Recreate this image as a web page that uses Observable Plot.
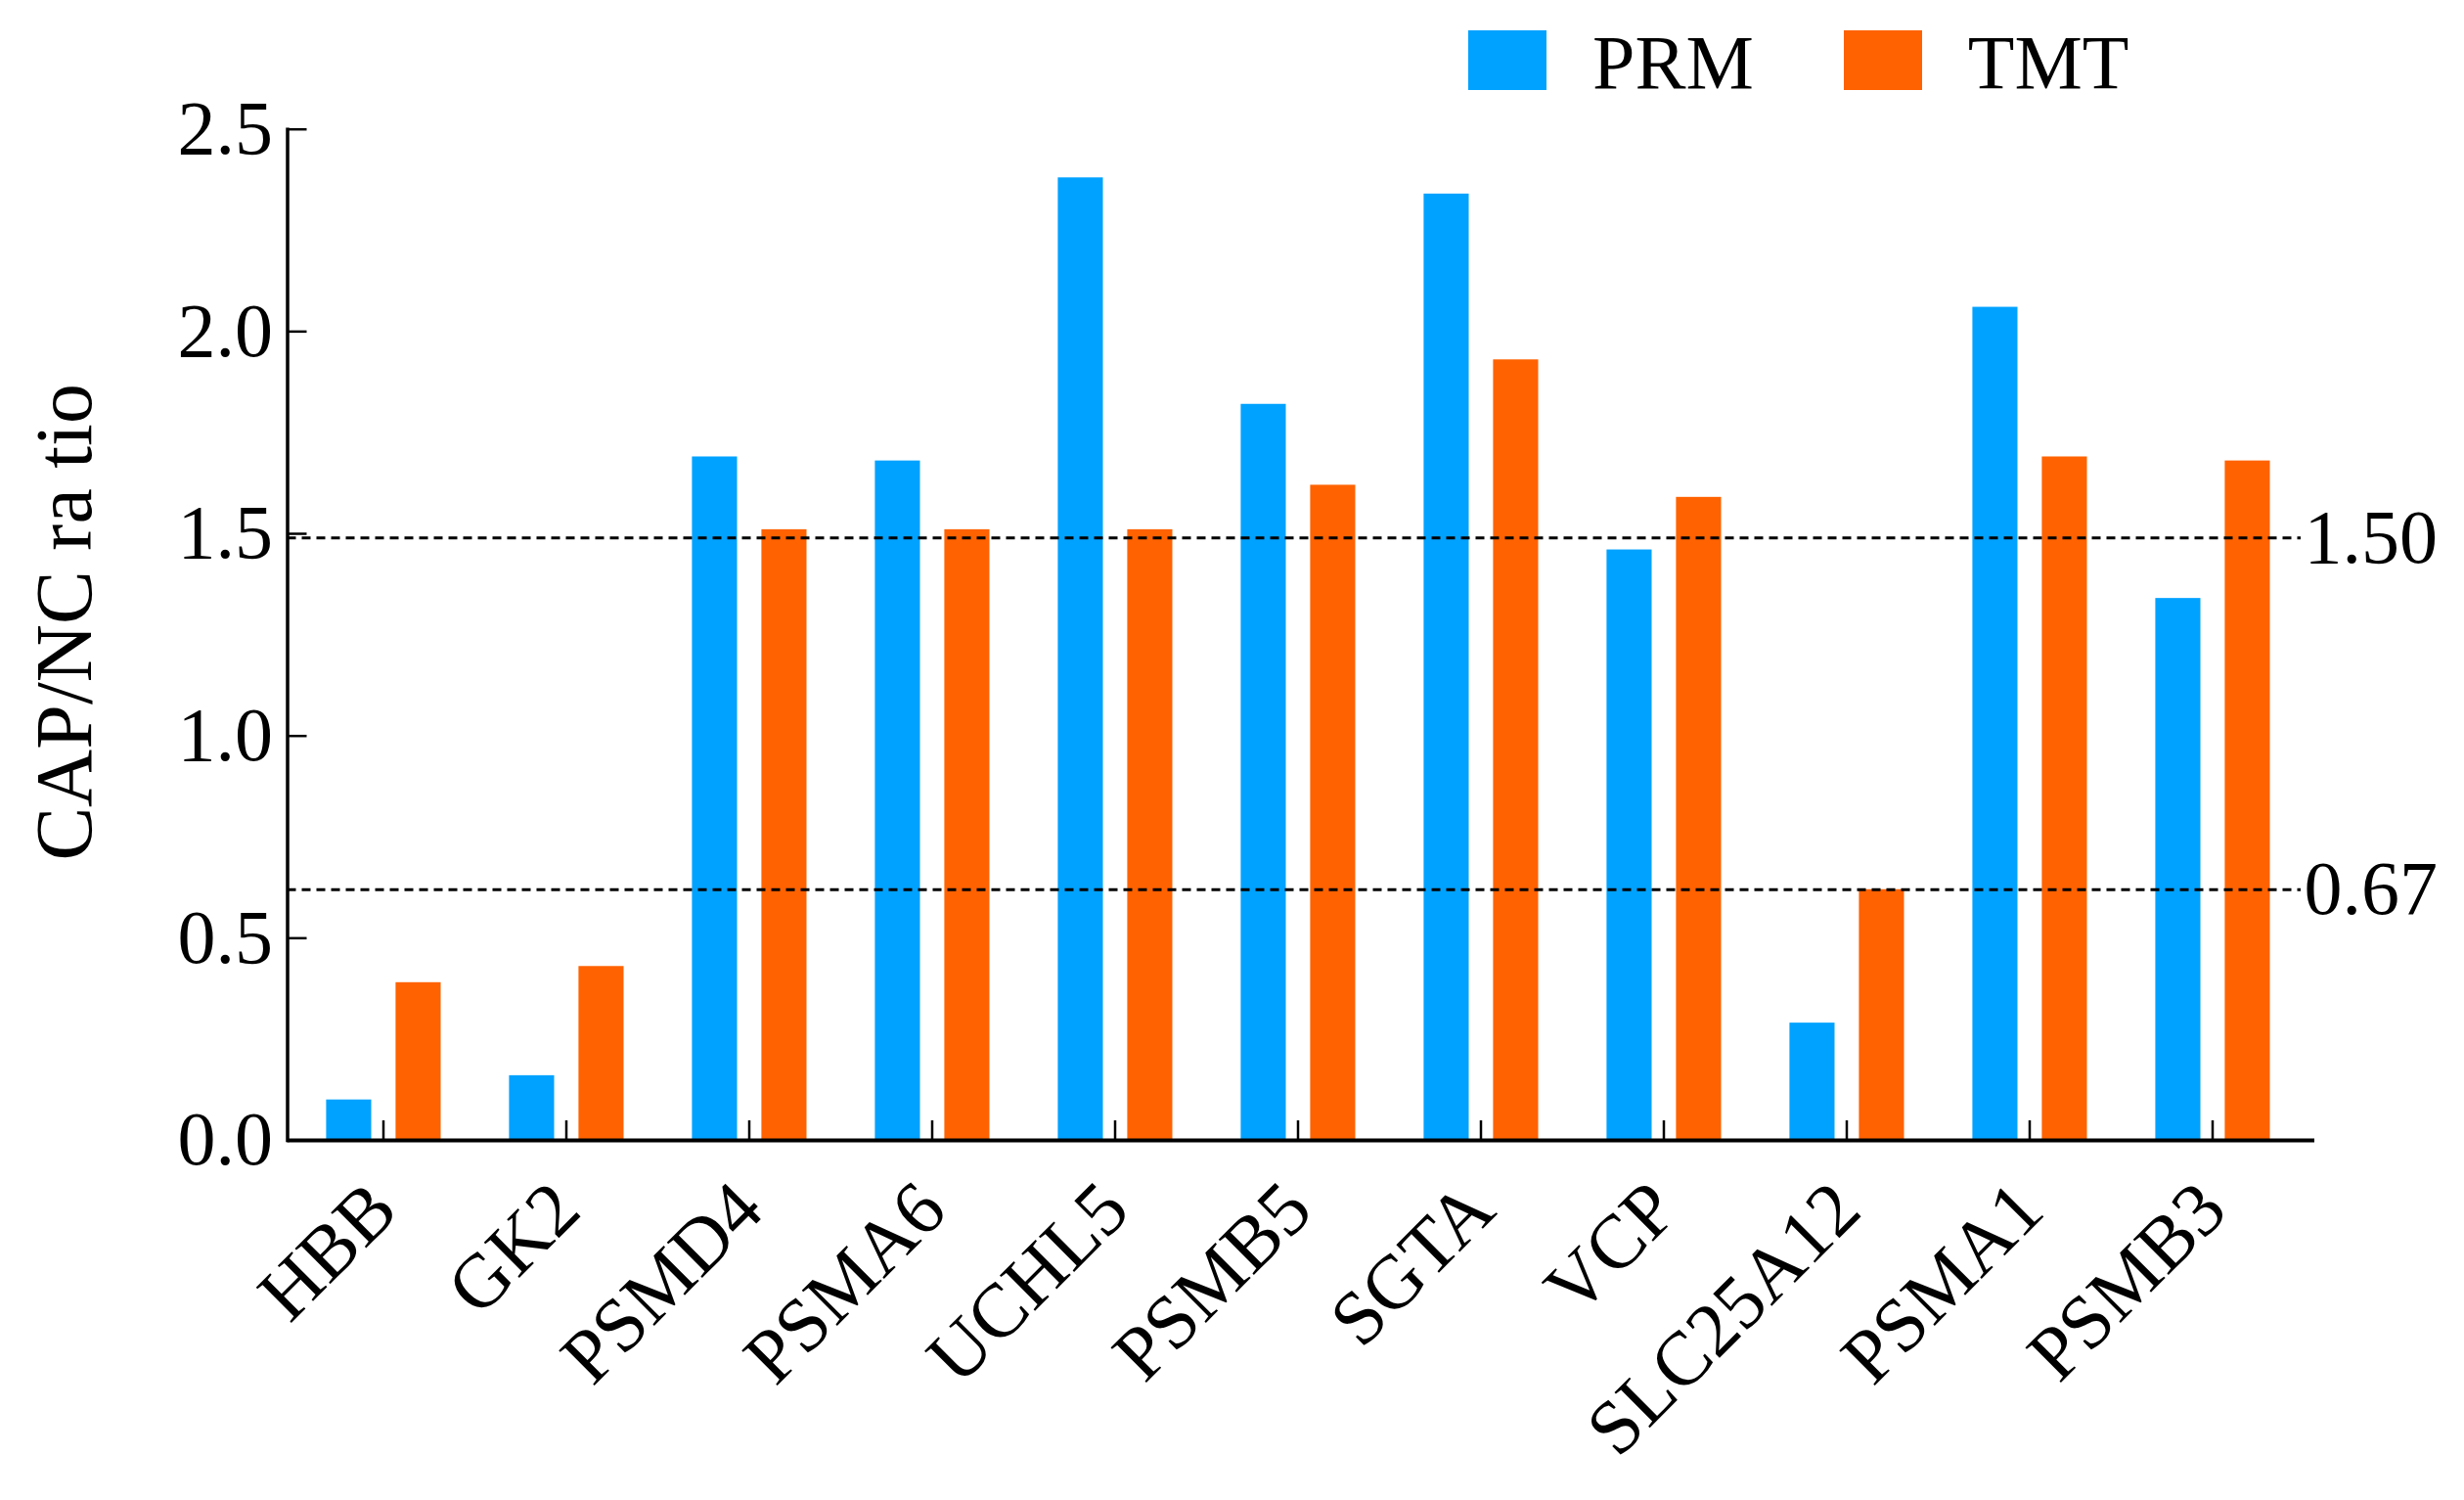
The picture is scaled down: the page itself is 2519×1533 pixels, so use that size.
<!DOCTYPE html>
<html><head><meta charset="utf-8">
<script src="https://cdn.jsdelivr.net/npm/d3@7"></script>
<script src="https://cdn.jsdelivr.net/npm/@observablehq/plot@0.6"></script>
<style>
html,body{margin:0;padding:0;background:#fff;}
#wrap{position:relative;width:2519px;height:1533px;overflow:hidden;}
#legend{position:absolute;left:1501px;top:22.5px;display:flex;align-items:center;font-family:"Liberation Serif","Times New Roman",serif;font-size:78px;color:#000;line-height:1;}
#legend .sw{width:80px;height:61px;margin-right:47px;}
#legend .lab{margin-right:92px;position:relative;top:2px;}
#chart{position:absolute;left:0;top:0;}
</style></head><body>
<div id="wrap"><div id="chart"></div><div id="legend"></div></div>
<script>
const genes = ["HBB","GK2","PSMD4","PSMA6","UCHL5","PSMB5","SGTA","VCP","SLC25A12","PSMA1","PSMB3"];
const prm = [0.10, 0.16, 1.69, 1.68, 2.38, 1.82, 2.34, 1.46, 0.29, 2.06, 1.34];
const tmt = [0.39, 0.43, 1.51, 1.51, 1.51, 1.62, 1.93, 1.59, 0.62, 1.69, 1.68];
const seriesNames = ["PRM", "TMT"];
const seriesColors = ["#00A2FF", "#FF6200"];
const yTicks = [0, 0.5, 1.0, 1.5, 2.0, 2.5];
const thresholdValues = [1.49, 0.62];
const thresholdLabels = ["1.50", "0.67"];
const yLabel = "CAP/NC ra tio";

const FONT = '"Liberation Serif","Times New Roman",serif';
const prmData = genes.map((g, i) => ({gene: g, value: prm[i]}));
const tmtData = genes.map((g, i) => ({gene: g, value: tmt[i]}));
const thresholds = thresholdValues.map((v, i) => ({value: v, label: thresholdLabels[i]}));

const plot = Plot.plot({
  width: 2519,
  height: 1533,
  marginLeft: 293.5,
  marginRight: 159,
  marginTop: 131.7,
  marginBottom: 368,
  style: {fontFamily: FONT, fontSize: "78px", color: "#000", background: "transparent", overflow: "visible"},
  x: {domain: genes, padding: 0, axis: null},
  y: {domain: [0, 2.5], axis: null},
  marks: [
    Plot.barY(prmData, {x: "gene", y: "value", fill: seriesColors[0], insetLeft: 35.4, insetRight: 105.5}),
    Plot.barY(tmtData, {x: "gene", y: "value", fill: seriesColors[1], insetLeft: 106.4, insetRight: 34.5}),
    Plot.ruleY(thresholds, {y: "value", stroke: "#000", strokeWidth: 3, strokeDasharray: "9,6", insetRight: 8}),
    Plot.text(thresholds, {y: "value", text: "label", frameAnchor: "right", textAnchor: "start", lineAnchor: "middle", dx: -5, fill: "#000"}),
    Plot.axisY({ticks: yTicks, tickFormat: d3.format(".1f"), tickSize: 20, insetLeft: 20, tickPadding: 15, strokeWidth: 2.5, label: null}),
    Plot.axisX({tickSize: 20, insetBottom: 20, tickPadding: 57, tickRotate: -45, textAnchor: "end", lineAnchor: "middle", strokeWidth: 2.5, label: null}),
    Plot.frame({anchor: "left", stroke: "#000", strokeWidth: 3.5}),
    Plot.ruleY([0], {stroke: "#000", strokeWidth: 4, insetRight: -6}),
    Plot.text([yLabel], {frameAnchor: "left", rotate: -90, dx: -227.5, dy: -13, fontSize: 82, textAnchor: "middle", lineAnchor: "middle", fill: "#000"})
  ]
});
document.getElementById("chart").appendChild(plot);

const legend = document.getElementById("legend");
seriesNames.forEach((name, i) => {
  const sw = document.createElement("div");
  sw.className = "sw";
  sw.style.background = seriesColors[i];
  const lab = document.createElement("div");
  lab.className = "lab";
  lab.textContent = name;
  legend.appendChild(sw);
  legend.appendChild(lab);
});
</script>
</body></html>
